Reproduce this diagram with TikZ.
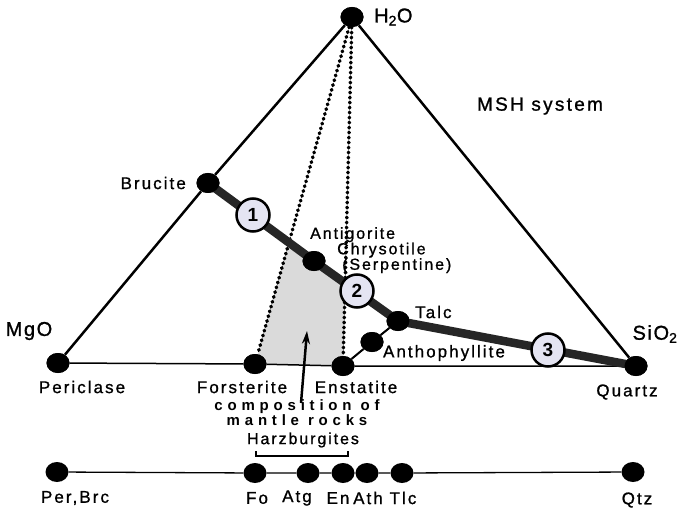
\documentclass[tikz,border=0pt]{standalone}
\usepackage{fontspec}
\setmainfont{Liberation Sans}
\newfontfamily\lblfont[LetterSpace=12,FakeBold=1]{Liberation Sans}
\newfontfamily\headfont[LetterSpace=8,FakeBold=1.2]{Liberation Sans}
\newfontfamily\boldwide[LetterSpace=32]{Liberation Sans Bold}
\usetikzlibrary{arrows.meta,shapes.geometric}
\definecolor{lav}{HTML}{E4E4F2}
\definecolor{areagray}{HTML}{DADADA}
\begin{document}
\begin{tikzpicture}[x=1pt,y=-1pt,
  dotnode/.style={ellipse,fill=black,minimum width=23pt,minimum height=20pt,inner sep=0pt},
  numnode/.style={circle,draw=black,line width=2.5pt,fill=lav,minimum size=33pt,inner sep=0pt,font=\fontsize{19}{19}\selectfont\bfseries},
  lbl/.style={inner sep=0pt,font=\lblfont\fontsize{17}{17}\selectfont},
  big/.style={inner sep=0pt,font=\headfont\fontsize{20}{20}\selectfont},
  edge/.style={line width=2.5pt},
  base/.style={line width=1.5pt},
  thin/.style={line width=2pt},
  dotline/.style={line width=3.5pt,line cap=round,dash pattern=on 0.8pt off 4.2pt},
  thick/.style={line width=8.5pt,black!85}]
\useasboundingbox (0,0) rectangle (685,513);

% shaded region
\fill[areagray] (255,364) -- (289,242) -- (345,282.6) -- (343,366) -- cycle;

% nodes (positions)
\node[dotnode] (h2o) at (352,17) {};
\node[dotnode] (per) at (58,363) {};
\node[dotnode] (fo) at (255,364) {};
\node[dotnode] (en) at (343,366) {};
\node[dotnode] (ath) at (372,342) {};
\node[dotnode] (tlc) at (398,321) {};
\node[dotnode] (qtz) at (636,366) {};
\node[dotnode] (bru) at (208,183) {};
\node[dotnode] (atg) at (314,261) {};

% triangle edges
\draw[edge] (h2o) -- (bru) -- (per);
\draw[edge] (h2o) -- (qtz);
\draw[base] (per) -- (fo) -- (en) -- (qtz);
% dotted
\draw[dotline] (h2o) -- (fo);
\draw[dotline] (h2o) -- (en);
% thin
\draw[thin] (en) -- (ath) -- (tlc);
% thick reaction line
\draw[thick] (bru.center) -- (atg.center) -- (tlc.center) -- (qtz.center);

% redraw node dots on top
\foreach \n in {h2o,per,fo,en,ath,tlc,qtz,bru,atg}
  \fill (\n) ellipse (11.5pt and 10pt);

% numbered circles
\node[numnode] (c1) at (253,215) {1};
\node[numnode] (c2) at (357,291) {2};
\node[numnode] (c3) at (548,350) {3};

% labels
\node[big, anchor=west] (th2o) at (374,17) {H\textsubscript{2}O};
\node[lbl, font=\lblfont\fontsize{19}{19}\selectfont] (tmsh) at (540,106) {MSH system};
\node[lbl, anchor=east] (tbru) at (186,183) {Brucite};
\node[lbl, anchor=north west, align=left, font=\lblfont\fontsize{16}{15.5}\selectfont] (tatg) at (310,227)
  {Antigorite\\\hspace*{27pt}Chrysotile\\\hspace*{32pt}(Serpentine)};
\node[lbl, anchor=west] (ttlc) at (415,312) {Talc};
\node[lbl] (tath) at (444,353) {Anthophyllite};
\node[big] (tmgo) at (29,331) {MgO};
\node[big] (tsio) at (655,334) {SiO\textsubscript{2}};
\node[lbl] (tper) at (82,387) {Periclase};
\node[lbl] (tfo) at (242,387) {Forsterite};
\node[lbl] (ten) at (356,387) {Enstatite};
\node[lbl] (tqtz) at (627,392) {Quartz};

% composition arrow
\coordinate (arrS) at (301,403);
\coordinate (arrE) at (307,331);
\draw[line width=2.5pt,-{Stealth[length=13pt,width=8pt]}] (arrS) -- (arrE);
\node[inner sep=0pt,align=center,font=\boldwide\fontsize{15}{13}\selectfont] (tcomp) at (297,413) {composition of\\mantle rocks};

% Harzburgites
\node[lbl, font=\lblfont\fontsize{16}{16}\selectfont] (thz) at (303,440) {Harzburgites};
\coordinate (hzA) at (256,451);
\coordinate (hzB) at (256,456);
\coordinate (hzC) at (348,456);
\coordinate (hzD) at (348,451);
\draw[line width=1.5pt] (hzA) -- (hzB) -- (hzC) -- (hzD);

% bottom line
\node[dotnode] (bper) at (57,472) {};
\node[dotnode] (bfo) at (255,473) {};
\node[dotnode] (batg) at (308,473) {};
\node[dotnode] (ben) at (343,473) {};
\node[dotnode] (bath) at (367,473) {};
\node[dotnode] (btlc) at (402,473) {};
\node[dotnode] (bqtz) at (633,472) {};
\draw[line width=1.3pt] (bper) -- (bfo) -- (batg) -- (ben) -- (bath) -- (btlc) -- (bqtz);
\node[lbl] (lper) at (75,498) {Per,Brc};
\node[lbl] (lfo) at (257,498) {Fo};
\node[lbl] (latg) at (297,498) {Atg};
\node[lbl] (len) at (338,498) {En};
\node[lbl] (lath) at (368,498) {Ath};
\node[lbl] (ltlc) at (403,498) {Tlc};
\node[lbl] (lqtz) at (637,500) {Qtz};
\end{tikzpicture}
\end{document}
